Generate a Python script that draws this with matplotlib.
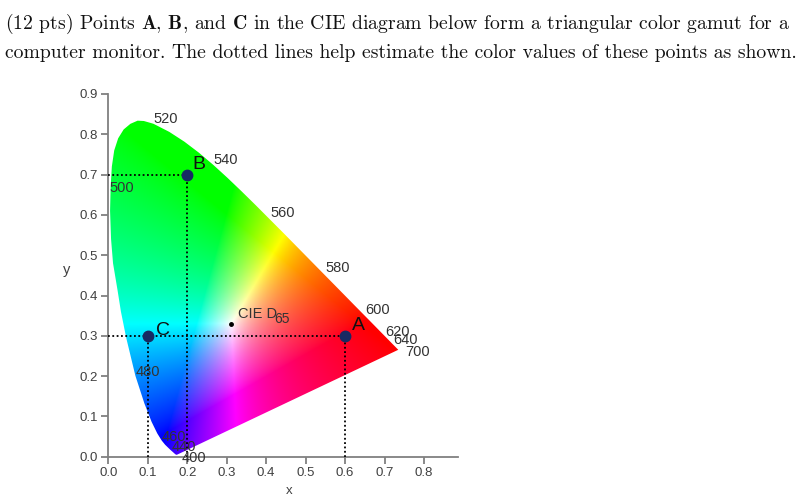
import numpy as np
import matplotlib
matplotlib.use("Agg")
import matplotlib.pyplot as plt
from matplotlib.patches import Polygon

plt.rcParams['mathtext.fontset'] = 'cm'
plt.rcParams['font.family'] = ['Liberation Sans', 'DejaVu Sans']

locus_x = [0.1741, 0.1733, 0.1714, 0.1689, 0.1644, 0.1566, 0.1440, 0.1355, 0.1241,
           0.1096, 0.0913, 0.0687, 0.0454, 0.0320, 0.0235, 0.0120, 0.0070, 0.0045,
           0.0060, 0.0090, 0.0150, 0.0250, 0.0389, 0.0560, 0.0743, 0.0900, 0.1142,
           0.1547, 0.1929, 0.2296, 0.2658, 0.3016, 0.3373, 0.3731, 0.4441, 0.5125,
           0.5752, 0.6270, 0.6658, 0.6915, 0.7079, 0.7190, 0.7300, 0.7334, 0.7347]
locus_y = [0.0050, 0.0048, 0.0051, 0.0069, 0.0109, 0.0177, 0.0297, 0.0399, 0.0578,
           0.0868, 0.1327, 0.2007, 0.2950, 0.3600, 0.4127, 0.4800, 0.5400, 0.6100,
           0.6700, 0.7200, 0.7600, 0.7900, 0.8120, 0.8260, 0.8338, 0.8330, 0.8262,
           0.8059, 0.7816, 0.7543, 0.7243, 0.6923, 0.6589, 0.6245, 0.5547, 0.4866,
           0.4242, 0.3725, 0.3340, 0.3083, 0.2920, 0.2809, 0.2700, 0.2666, 0.2653]

# gamut corners
point_names = ['A', 'B', 'C']
point_x = [0.6, 0.2, 0.1]
point_y = [0.3, 0.7, 0.3]

# white point
d65_x, d65_y = 0.311, 0.3285

# wavelength labels
wl_text = ['520', '540', '500', '560', '580', '600', '620', '640', '700',
           '480', '460', '440', '400']
wl_x = [0.145, 0.297, 0.035, 0.441, 0.582, 0.682, 0.733, 0.753, 0.783,
        0.101, 0.166, 0.192, 0.217]
wl_y = [0.838, 0.736, 0.667, 0.605, 0.468, 0.363, 0.310, 0.290, 0.260,
        0.211, 0.049, 0.024, -0.003]

xticks = [0.0, 0.1, 0.2, 0.3, 0.4, 0.5, 0.6, 0.7, 0.8]
yticks = [0.0, 0.1, 0.2, 0.3, 0.4, 0.5, 0.6, 0.7, 0.8, 0.9]

fig = plt.figure(figsize=(8.1, 4.96), dpi=100)
ax = fig.add_axes([0.1337, 0.0792, 0.4317, 0.7313])

# colour fill: xyY (Y=1) -> linear sRGB, clip, normalise
gx, gy = np.meshgrid(np.linspace(0, 0.8, 400), np.linspace(0.001, 0.9, 450))
X = gx / gy
Y = np.ones_like(gx)
Z = (1 - gx - gy) / gy
M = np.array([[3.2406, -1.5372, -0.4986],
              [-0.9689, 1.8758, 0.0415],
              [0.0557, -0.2040, 1.0570]])
rgb = np.einsum('ij,jkl->kli', M, np.stack([X, Y, Z]))
rgb = np.clip(rgb, 0, None)
rgb = rgb / rgb.max(axis=2, keepdims=True)
rgb = np.clip(rgb, 0, 1) ** 0.75

im = ax.imshow(rgb, extent=[0, 0.8, 0.001, 0.9], origin='lower',
               interpolation='bilinear', aspect='auto', zorder=1)
shape = Polygon(np.column_stack([locus_x, locus_y]), closed=True,
                transform=ax.transData, facecolor='none', edgecolor='none')
ax.add_patch(shape)
im.set_clip_path(shape)

# dotted guides
dot = dict(color='black', lw=1.3, ls=(0, (1, 1.4)), zorder=3)
for px, py in zip(point_x, point_y):
    ax.plot([px, px], [0, py], **dot)
ax.plot([0, point_x[1]], [point_y[1], point_y[1]], **dot)
ax.plot([0, point_x[0]], [point_y[0], point_y[0]], **dot)

ax.plot(point_x, point_y, 'o', color='#172a63', ms=7.5, zorder=4)
label_off = {'A': (0.033, 0.025), 'B': (0.030, 0.026), 'C': (0.039, 0.014)}
for n, px, py in zip(point_names, point_x, point_y):
    ax.text(px + label_off[n][0], py + label_off[n][1], n, fontsize=14,
            ha='center', va='center', color='#111111', zorder=5)

ax.plot([d65_x], [d65_y], 'o', color='black', ms=2.5, zorder=4)
ax.text(0.328, 0.355, 'CIE D', fontsize=10.5, color='#333333',
        ha='left', va='center', zorder=5)
ax.text(0.420, 0.341, '65', fontsize=10, color='#333333',
        ha='left', va='center', zorder=5)

for t, tx, ty in zip(wl_text, wl_x, wl_y):
    ax.text(tx, ty, t, fontsize=10.5, color='#333333', ha='center', va='center',
            zorder=5)

ax.set_xlim(0, 0.886)
ax.set_ylim(0, 0.9)
ax.set_xticks(xticks)
ax.set_xticklabels(['%.1f' % v for v in xticks])
ax.set_yticks(yticks)
ax.set_yticklabels(['%.1f' % v for v in yticks])
for s in ['top', 'right']:
    ax.spines[s].set_visible(False)
for s in ['left', 'bottom']:
    ax.spines[s].set_color('#808080')
    ax.spines[s].set_linewidth(1.3)
ax.tick_params(colors='#808080', labelcolor='#404040', labelsize=9.5,
               length=5, width=1.3, pad=2.5)
ax.text(-0.118, 0.515, 'y', transform=ax.transAxes, fontsize=10.5,
        color='#404040', ha='center', va='center')
ax.text(0.517, -0.095, 'x', transform=ax.transAxes, fontsize=9.5,
        color='#404040', ha='center', va='center')

title1 = (r'(12 pts) Points $\mathbf{A}$, $\mathbf{B}$, and $\mathbf{C}$ in the CIE '
          r'diagram below form a triangular color gamut for a')
title2 = 'computer monitor. The dotted lines help estimate the color values of these points as shown.'
fig.text(0.006, 1 - 29 / 496, title1, fontfamily='cmr10', fontsize=14.2,
         color='#111111', va='baseline')
fig.text(0.006, 1 - 58 / 496, title2, fontfamily='cmr10', fontsize=14.2,
         color='#111111', va='baseline')

fig.savefig('out.png', dpi=100)
